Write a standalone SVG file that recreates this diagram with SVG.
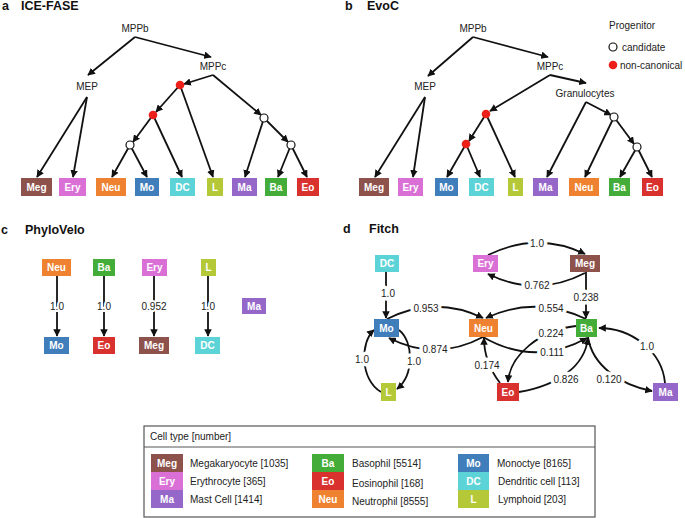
<svg xmlns="http://www.w3.org/2000/svg" width="685" height="518" viewBox="0 0 685 518">
<style>
text{font-family:"Liberation Sans",Arial,sans-serif;}
.t{font-size:12.5px;font-weight:bold;fill:#111;}
.n{font-size:10px;fill:#222;text-anchor:middle;}
.bl{font-size:10px;font-weight:bold;fill:#fff;text-anchor:middle;}
.el{font-size:10px;fill:#222;text-anchor:middle;paint-order:stroke;stroke:#fff;stroke-width:4px;stroke-linejoin:round;}
.ed{stroke-width:7px;}
.lg{font-size:10px;fill:#222;}
.e{fill:none;stroke:#111;stroke-width:1.8;marker-end:url(#ah);}
.meg{fill:#8E524C}.ery{fill:#DA70D6}.neu{fill:#EE8230}.mo{fill:#3F7EBB}.dc{fill:#5CD3D6}
.l{fill:#B4C838}.ma{fill:#9567C9}.ba{fill:#44AD3A}.eo{fill:#D8312E}
.cand{fill:#fff;stroke:#111;stroke-width:1.2}
.nc{fill:#EC2019}
</style>
<defs>
<marker id="ah" viewBox="0 0 10 10" refX="9" refY="5" markerWidth="4.2" markerHeight="4.2" orient="auto" markerUnits="strokeWidth">
<path d="M0,0 L10,5 L0,10 z" fill="#111"/>
</marker>
</defs>
<rect width="685" height="518" fill="#fff"/>

<!-- titles -->
<text class="t" x="2" y="10">a</text><text class="t" x="21" y="10">ICE-FASE</text>
<text class="t" x="345" y="10">b</text><text class="t" x="367" y="10">EvoC</text>
<text class="t" x="1" y="234">c</text><text class="t" x="25" y="234">PhyloVelo</text>
<text class="t" x="343" y="233">d</text><text class="t" x="369" y="233">Fitch</text>

<g id="connectors">
<!-- panel a -->
<path class="e" d="M135,37 L88,75"/>
<path class="e" d="M135,37 L211,57"/>
<path class="e" d="M87,97 L37,177"/>
<path class="e" d="M87,97 L73,177"/>
<path class="e" d="M213,75 L184,84"/>
<path class="e" d="M213,75 L261,115"/>
<path class="e" d="M180,85 L156,112"/>
<path class="e" d="M180,85 L213,177"/>
<path class="e" d="M153,115 L133,142"/>
<path class="e" d="M153,115 L182,177"/>
<path class="e" d="M130,145 L112,177"/>
<path class="e" d="M130,145 L147,177"/>
<path class="e" d="M264,118 L245,177"/>
<path class="e" d="M264,118 L288,142"/>
<path class="e" d="M291,145 L278,177"/>
<path class="e" d="M291,145 L307,177"/>
<!-- panel b -->
<path class="e" d="M473,37 L428,76"/>
<path class="e" d="M473,37 L548,57"/>
<path class="e" d="M425,97 L375,177"/>
<path class="e" d="M425,97 L413,177"/>
<path class="e" d="M550,75 L490,111"/>
<path class="e" d="M550,75 L586,83"/>
<path class="e" d="M486,114 L469,141"/>
<path class="e" d="M486,114 L515,177"/>
<path class="e" d="M466,144 L447,177"/>
<path class="e" d="M466,144 L480,177"/>
<path class="e" d="M586,102 L547,177"/>
<path class="e" d="M586,102 L611,115"/>
<path class="e" d="M614,117 L585,177"/>
<path class="e" d="M614,117 L634,144"/>
<path class="e" d="M637,147 L620,177"/>
<path class="e" d="M637,147 L652,177"/>
<!-- panel c -->
<path class="e" d="M57,276 L57,336"/>
<path class="e" d="M104,276 L104,336"/>
<path class="e" d="M154,276 L154,336"/>
<path class="e" d="M208,276 L208,336"/>
<text class="el" x="57" y="309.5">1.0</text>
<text class="el" x="104" y="309.5">1.0</text>
<text class="el" x="154" y="309.5">0.952</text>
<text class="el" x="208" y="309.5">1.0</text>
<!-- panel d -->
<path class="e" d="M488,255 Q537,231 585,254"/>
<path class="e" d="M585,273 Q537,298 488,274"/>
<path class="e" d="M386,272 L386,318"/>
<path class="e" d="M586,272 L586,318"/>
<path class="e" d="M387,319 Q435,295 483,318"/>
<path class="e" d="M586,319 Q535,295 486,318"/>
<path class="e" d="M483,337 Q436,362 389,338"/>
<path class="e" d="M483,337 Q535,367 587,338"/>
<path class="e" d="M576,326 C540,330 510,355 508,382"/>
<path class="e" d="M500,383 C490,370 484,355 484,338"/>
<path class="e" d="M519,392 C560,385 585,365 588,338"/>
<path class="e" d="M588,337 C592,365 620,385 652,391"/>
<path class="e" d="M665,383 C662,350 630,328 599,328"/>
<path class="e" d="M399,330 C414,342 414,375 397,389"/>
<path class="e" d="M381,392 C360,380 360,342 374,330"/>
<text class="el ed" x="537" y="246.5">1.0</text>
<text class="el ed" x="537" y="288.5">0.762</text>
<text class="el ed" x="388" y="296.5">1.0</text>
<text class="el ed" x="586" y="300.5">0.238</text>
<text class="el ed" x="426" y="311.5">0.953</text>
<text class="el ed" x="551" y="311.5">0.554</text>
<text class="el ed" x="435" y="352.5">0.874</text>
<text class="el ed" x="552" y="355.5">0.111</text>
<text class="el ed" x="551" y="336.5">0.224</text>
<text class="el ed" x="487" y="368.5">0.174</text>
<text class="el ed" x="566" y="382.5">0.826</text>
<text class="el ed" x="609" y="382.5">0.120</text>
<text class="el ed" x="647" y="349.5">1.0</text>
<text class="el ed" x="414" y="364.5">1.0</text>
<text class="el ed" x="362" y="362.5">1.0</text>
</g>

<!-- panel a nodes -->
<g id="a-MPPb"><text class="n" x="135" y="31.5">MPPb</text></g>
<g id="a-MPPc"><text class="n" x="213" y="69.5">MPPc</text></g>
<g id="a-MEP"><text class="n" x="87" y="89.5">MEP</text></g>
<g id="a-nc1"><circle class="nc" cx="180" cy="85" r="4.3"/></g>
<g id="a-nc2"><circle class="nc" cx="153" cy="115" r="4.3"/></g>
<g id="a-c1"><circle class="cand" cx="130" cy="145" r="4"/></g>
<g id="a-c2"><circle class="cand" cx="264" cy="118" r="4"/></g>
<g id="a-c3"><circle class="cand" cx="291" cy="145" r="4"/></g>
<g id="a-Meg"><rect class="meg" x="21" y="178" width="31" height="18"/><text class="bl" x="36.5" y="190.5">Meg</text></g>
<g id="a-Ery"><rect class="ery" x="59" y="178" width="27" height="18"/><text class="bl" x="72.5" y="190.5">Ery</text></g>
<g id="a-Neu"><rect class="neu" x="96" y="178" width="30" height="18"/><text class="bl" x="111" y="190.5">Neu</text></g>
<g id="a-Mo"><rect class="mo" x="135" y="178" width="24" height="18"/><text class="bl" x="147" y="190.5">Mo</text></g>
<g id="a-DC"><rect class="dc" x="170" y="178" width="25" height="18"/><text class="bl" x="182.5" y="190.5">DC</text></g>
<g id="a-L"><rect class="l" x="207" y="178" width="16" height="18"/><text class="bl" x="215" y="190.5">L</text></g>
<g id="a-Ma"><rect class="ma" x="232" y="178" width="25" height="18"/><text class="bl" x="244.5" y="190.5">Ma</text></g>
<g id="a-Ba"><rect class="ba" x="265" y="178" width="22" height="18"/><text class="bl" x="276" y="190.5">Ba</text></g>
<g id="a-Eo"><rect class="eo" x="297" y="178" width="22" height="18"/><text class="bl" x="308" y="190.5">Eo</text></g>

<!-- panel b nodes -->
<g id="b-MPPb"><text class="n" x="473" y="31.5">MPPb</text></g>
<g id="b-MPPc"><text class="n" x="550" y="69.5">MPPc</text></g>
<g id="b-MEP"><text class="n" x="425" y="89.5">MEP</text></g>
<g id="b-Gran"><text class="n" x="585" y="96.5">Granulocytes</text></g>
<g id="b-nc1"><circle class="nc" cx="486" cy="114" r="4.3"/></g>
<g id="b-nc2"><circle class="nc" cx="466" cy="144" r="4.3"/></g>
<g id="b-c1"><circle class="cand" cx="614" cy="117" r="4"/></g>
<g id="b-c2"><circle class="cand" cx="637" cy="147" r="4"/></g>
<g id="b-Meg"><rect class="meg" x="359" y="178" width="30" height="18"/><text class="bl" x="374" y="190.5">Meg</text></g>
<g id="b-Ery"><rect class="ery" x="398" y="178" width="25" height="18"/><text class="bl" x="410.5" y="190.5">Ery</text></g>
<g id="b-Mo"><rect class="mo" x="435" y="178" width="23" height="18"/><text class="bl" x="446.5" y="190.5">Mo</text></g>
<g id="b-DC"><rect class="dc" x="469" y="178" width="25" height="18"/><text class="bl" x="481.5" y="190.5">DC</text></g>
<g id="b-L"><rect class="l" x="508" y="178" width="15" height="18"/><text class="bl" x="515.5" y="190.5">L</text></g>
<g id="b-Ma"><rect class="ma" x="533" y="178" width="25" height="18"/><text class="bl" x="545.5" y="190.5">Ma</text></g>
<g id="b-Neu"><rect class="neu" x="569" y="178" width="30" height="18"/><text class="bl" x="584" y="190.5">Neu</text></g>
<g id="b-Ba"><rect class="ba" x="609" y="178" width="21" height="18"/><text class="bl" x="619.5" y="190.5">Ba</text></g>
<g id="b-Eo"><rect class="eo" x="642" y="178" width="21" height="18"/><text class="bl" x="652.5" y="190.5">Eo</text></g>
<g id="b-legend">
<text class="lg" x="609" y="29">Progenitor</text>
<circle class="cand" cx="613" cy="47" r="4"/><text class="lg" x="622" y="50.5">candidate</text>
<circle class="nc" cx="613" cy="65" r="4.3"/><text class="lg" x="620" y="68.5">non-canonical</text>
</g>

<!-- panel c nodes -->
<g id="c-Neu"><rect class="neu" x="42" y="259" width="29" height="17"/><text class="bl" x="56.5" y="271">Neu</text></g>
<g id="c-Ba"><rect class="ba" x="93" y="259" width="22" height="17"/><text class="bl" x="104" y="271">Ba</text></g>
<g id="c-Ery"><rect class="ery" x="142" y="259" width="25" height="17"/><text class="bl" x="154.5" y="271">Ery</text></g>
<g id="c-L"><rect class="l" x="201" y="259" width="15" height="17"/><text class="bl" x="208.5" y="271">L</text></g>
<g id="c-Mo"><rect class="mo" x="44" y="337" width="25" height="17"/><text class="bl" x="56.5" y="349">Mo</text></g>
<g id="c-Eo"><rect class="eo" x="93" y="337" width="22" height="17"/><text class="bl" x="104" y="349">Eo</text></g>
<g id="c-Meg"><rect class="meg" x="139" y="337" width="30" height="17"/><text class="bl" x="154" y="349">Meg</text></g>
<g id="c-DC"><rect class="dc" x="195" y="337" width="25" height="17"/><text class="bl" x="207.5" y="349">DC</text></g>
<g id="c-Ma"><rect class="ma" x="242" y="298" width="24" height="16"/><text class="bl" x="254" y="309.5">Ma</text></g>

<!-- panel d nodes -->
<g id="d-DC"><rect class="dc" x="375" y="255" width="24" height="17"/><text class="bl" x="387" y="267">DC</text></g>
<g id="d-Ery"><rect class="ery" x="473" y="255" width="25" height="17"/><text class="bl" x="485.5" y="267">Ery</text></g>
<g id="d-Meg"><rect class="meg" x="570" y="255" width="30" height="17"/><text class="bl" x="585" y="267">Meg</text></g>
<g id="d-Mo"><rect class="mo" x="374" y="319" width="25" height="18"/><text class="bl" x="386.5" y="331.5">Mo</text></g>
<g id="d-Neu"><rect class="neu" x="469" y="319" width="29" height="18"/><text class="bl" x="483.5" y="331.5">Neu</text></g>
<g id="d-Ba"><rect class="ba" x="576" y="319" width="21" height="18"/><text class="bl" x="586.5" y="331.5">Ba</text></g>
<g id="d-L"><rect class="l" x="381" y="383" width="15" height="18"/><text class="bl" x="388.5" y="395.5">L</text></g>
<g id="d-Eo"><rect class="eo" x="497" y="383" width="22" height="18"/><text class="bl" x="508" y="395.5">Eo</text></g>
<g id="d-Ma"><rect class="ma" x="653" y="383" width="25" height="18"/><text class="bl" x="665.5" y="395.5">Ma</text></g>

<!-- legend -->
<g id="legend">
<rect x="144" y="426" width="451" height="91" fill="#fff" stroke="#555" stroke-width="1.2"/>
<line x1="144" y1="447" x2="595" y2="447" stroke="#555" stroke-width="1"/>
<text class="lg" x="150" y="439.5">Cell type [number]</text>
<rect class="meg" x="151" y="454" width="32" height="18"/><text class="bl" x="167" y="466.5">Meg</text>
<rect class="ery" x="151" y="472" width="32" height="18"/><text class="bl" x="167" y="484.5">Ery</text>
<rect class="ma" x="151" y="490" width="32" height="18"/><text class="bl" x="167" y="502.5">Ma</text>
<text class="lg" x="190" y="466.5">Megakaryocyte [1035]</text>
<text class="lg" x="190" y="485">Erythrocyte [365]</text>
<text class="lg" x="190" y="502.5">Mast Cell [1414]</text>
<rect class="ba" x="312" y="454" width="32" height="18"/><text class="bl" x="328" y="466.5">Ba</text>
<rect class="eo" x="312" y="472" width="32" height="18"/><text class="bl" x="328" y="484.5">Eo</text>
<rect class="neu" x="312" y="490" width="32" height="18"/><text class="bl" x="328" y="502.5">Neu</text>
<text class="lg" x="352" y="466.5">Basophil [5514]</text>
<text class="lg" x="352" y="487">Eosinophil [168]</text>
<text class="lg" x="352" y="505">Neutrophil [8555]</text>
<rect class="mo" x="458" y="454" width="31" height="18"/><text class="bl" x="473.5" y="466.5">Mo</text>
<rect class="dc" x="458" y="472" width="31" height="18"/><text class="bl" x="473.5" y="484.5">DC</text>
<rect class="l" x="458" y="490" width="31" height="18"/><text class="bl" x="473.5" y="502.5">L</text>
<text class="lg" x="497" y="466.5">Monoctye [8165]</text>
<text class="lg" x="498" y="485">Dendritic cell [113]</text>
<text class="lg" x="498" y="503">Lymphoid [203]</text>
</g>
</svg>
